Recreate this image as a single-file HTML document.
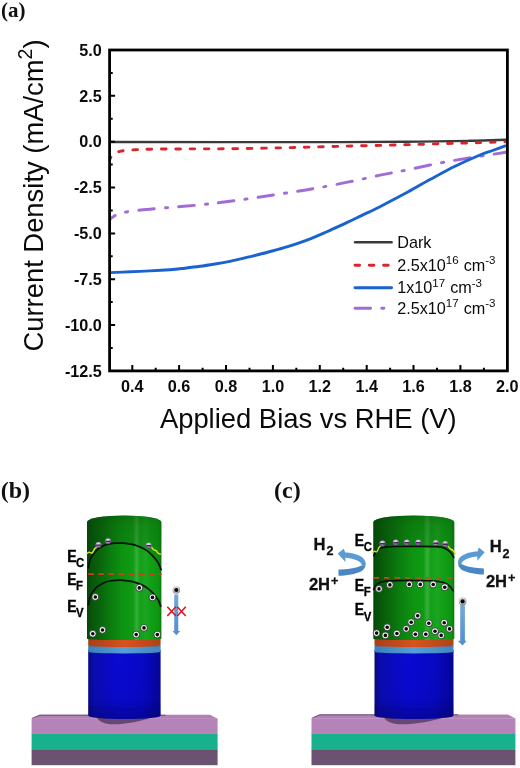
<!DOCTYPE html>
<html><head><meta charset="utf-8"><title>Figure</title>
<style>
html,body{margin:0;padding:0;background:#fff;}
body{width:520px;height:768px;overflow:hidden;}
svg{display:block;}
text{font-family:"Liberation Sans",Arial,sans-serif;fill:#0a0a0a;}
.tk{font-weight:bold;font-size:16.2px;}
.pl{font-family:"Liberation Serif","Times New Roman",serif;font-weight:bold;font-size:21px;fill:#111;}
.lg{font-size:16.2px;}
.eb{font-weight:bold;font-size:17.4px;fill:#000;stroke:#000;stroke-width:0.45px;}
.es{font-weight:bold;font-size:12.2px;fill:#000;stroke:#000;stroke-width:0.3px;}
.hb{font-weight:bold;font-size:16.6px;fill:#111;stroke:#111;stroke-width:0.3px;}
.hs{font-weight:bold;font-size:12.6px;fill:#111;}
</style></head><body>
<svg width="520" height="768" viewBox="0 0 520 768">
<defs>
<linearGradient id="gG" x1="0" x2="1" y1="0" y2="0">
<stop offset="0" stop-color="#054607"/><stop offset="0.07" stop-color="#07560a"/><stop offset="0.2" stop-color="#09690c"/>
<stop offset="0.34" stop-color="#0b800f"/><stop offset="0.47" stop-color="#0d9211"/><stop offset="0.62" stop-color="#0f9c13"/><stop offset="0.665" stop-color="#38ae3a"/><stop offset="0.715" stop-color="#129f16"/>
<stop offset="0.79" stop-color="#1da521"/><stop offset="0.85" stop-color="#10a014"/><stop offset="0.96" stop-color="#0e9612"/><stop offset="1" stop-color="#0a7a0e"/>
</linearGradient>
<linearGradient id="gTop" x1="0" x2="0" y1="0" y2="1">
<stop offset="0" stop-color="#053a08" stop-opacity="0.3"/><stop offset="0.3" stop-color="#0a5a10" stop-opacity="0.15"/><stop offset="1" stop-color="#0a5a10" stop-opacity="0"/>
</linearGradient>
<linearGradient id="gB" x1="0" x2="1" y1="0" y2="0">
<stop offset="0" stop-color="#080880"/><stop offset="0.07" stop-color="#0b0bb0"/><stop offset="0.4" stop-color="#0909d2"/>
<stop offset="0.75" stop-color="#0808c8"/><stop offset="1" stop-color="#050598"/>
</linearGradient>
<linearGradient id="gBv" x1="0" x2="0" y1="0" y2="1">
<stop offset="0" stop-color="#000040" stop-opacity="0"/><stop offset="0.7" stop-color="#000040" stop-opacity="0.05"/><stop offset="1" stop-color="#000040" stop-opacity="0.35"/>
</linearGradient>
<linearGradient id="gO" x1="0" x2="1" y1="0" y2="0">
<stop offset="0" stop-color="#a83e16"/><stop offset="0.5" stop-color="#d8521e"/><stop offset="1" stop-color="#b04218"/>
</linearGradient>
<linearGradient id="gL" x1="0" x2="1" y1="0" y2="0">
<stop offset="0" stop-color="#3a7fba"/><stop offset="0.5" stop-color="#559fd8"/><stop offset="1" stop-color="#3f86c2"/>
</linearGradient>
<linearGradient id="gAr" x1="0" x2="0" y1="0" y2="1">
<stop offset="0" stop-color="#74a8da"/><stop offset="1" stop-color="#528fca"/>
</linearGradient>
<radialGradient id="gE" cx="0.45" cy="0.3" r="0.75">
<stop offset="0" stop-color="#ece4f0"/><stop offset="0.55" stop-color="#a88cb8"/><stop offset="1" stop-color="#4a2c5a"/>
</radialGradient>
<radialGradient id="gH" cx="0.45" cy="0.4" r="0.7">
<stop offset="0" stop-color="#ffffff"/><stop offset="0.65" stop-color="#f2f2f2"/><stop offset="1" stop-color="#9a9a9a"/>
</radialGradient>
<radialGradient id="gH2" cx="0.45" cy="0.4" r="0.7">
<stop offset="0" stop-color="#f0f0f0"/><stop offset="0.55" stop-color="#c8c8c8"/><stop offset="1" stop-color="#555"/>
</radialGradient>
<g id="hole"><circle r="3.45" fill="url(#gH)" stroke="#1f3a24" stroke-width="0.8"/><circle r="1.8" fill="#0a0a0a"/></g>
<g id="hole2"><circle r="3.8" fill="url(#gH2)"/><circle r="2.1" fill="#0a0a0a"/></g>
<g id="elec"><circle r="3" cy="0.4" fill="url(#gE)"/><rect x="-2.5" y="-0.1" width="5" height="1.4" rx="0.5" fill="#350a4a" opacity="0.85"/></g>
<g id="uarrow"><path d="M338.5 569.6C346 569.4 356 568.4 362.3 565.3C364 564.4 365 563.6 365.4 562.4C366.2 566 364.5 569 361.5 571.2C356 574 346 575.6 338.5 575.8Z" fill="#4a87c5"/>
<path d="M337.7 553.5L343.8 548.8L345.2 552.6C352 552.6 360 555 363.4 558.4C365.2 560.2 366 562.4 365.4 564.4C364.6 566 363.4 566.4 362 565.8C362.2 563.6 360 561.6 356 560C353 558.8 349 558 345.4 557.8L345.4 562Z" fill="#5b9bd5"/></g>
</defs>
<rect width="520" height="768" fill="#fff"/>

<text class="pl" x="1" y="17.2">(a)</text>
<text class="pl" x="0.7" y="498.1" style="font-size:24px">(b)</text>
<text class="pl" x="274.1" y="498.1" style="font-size:24px">(c)</text>
<path id="cdark" d="M110.0 142.0 C148.3 142.0 288.3 142.2 340.0 142.1 C391.7 142.0 398.3 141.8 420.0 141.6 C441.7 141.4 455.7 141.1 470.0 140.8 C484.3 140.5 500.0 140.0 506.0 139.8" fill="none" stroke="#3a3a3a" stroke-width="2.4" stroke-linecap="round"/>
<path id="cred" d="M110.0 158.8 C110.3 158.2 111.2 156.4 112.0 155.5 C112.8 154.6 113.8 154.0 115.0 153.3 C116.2 152.7 117.3 152.1 119.0 151.6 C120.7 151.1 122.3 150.8 125.0 150.5 C127.7 150.2 130.8 150.0 135.0 149.8 C139.2 149.6 141.7 149.3 150.0 149.2 C158.3 149.0 172.5 149.0 185.0 148.9 C197.5 148.8 208.8 148.9 225.0 148.8 C241.2 148.6 262.8 148.2 282.0 147.8 C301.2 147.4 320.3 146.8 340.0 146.3 C359.7 145.8 382.7 145.4 400.0 144.9 C417.3 144.4 430.7 144.0 444.0 143.6 C457.3 143.2 469.7 142.9 480.0 142.6 C490.3 142.3 501.7 141.9 506.0 141.8" fill="none" stroke="#d9262c" stroke-width="2.9" stroke-linecap="round" stroke-dasharray="4.6 9.7" stroke-dashoffset="2.6"/>
<path id="cpur" d="M110.0 219.5 C110.3 219.2 111.2 218.2 112.0 217.6 C112.8 216.9 114.0 216.2 115.0 215.6 C116.0 215.0 117.1 214.4 118.3 214.0 C119.5 213.6 120.4 213.3 122.0 212.9 C123.6 212.5 125.0 212.1 127.7 211.7 C130.3 211.3 134.2 210.7 137.9 210.3 C141.6 209.9 143.8 209.8 150.0 209.2 C156.2 208.6 166.7 207.7 175.0 207.0 C183.3 206.3 192.5 205.6 200.0 204.8 C207.5 204.1 212.5 203.4 220.0 202.5 C227.5 201.6 236.7 200.4 245.0 199.2 C253.3 198.0 261.7 196.8 270.0 195.5 C278.3 194.2 286.7 193.0 295.0 191.7 C303.3 190.4 310.8 189.2 320.0 187.5 C329.2 185.8 340.0 183.8 350.0 181.7 C360.0 179.6 370.2 177.2 380.0 175.2 C389.8 173.2 398.3 171.7 409.0 169.5 C419.7 167.3 432.5 164.3 444.0 162.2 C455.5 160.0 467.7 158.2 478.0 156.6 C488.3 154.9 501.3 153.0 506.0 152.3" fill="none" stroke="#a06cd6" stroke-width="2.9" stroke-linecap="round" stroke-dasharray="15.6 11.1 2.2 11.1" stroke-dashoffset="9.1"/>
<path id="cblue" d="M110.0 272.6 C113.3 272.5 123.3 272.1 130.0 271.8 C136.7 271.5 143.3 271.2 150.0 270.9 C156.7 270.6 164.2 270.2 170.0 269.8 C175.8 269.4 180.0 268.8 185.0 268.2 C190.0 267.6 195.0 267.0 200.0 266.3 C205.0 265.6 210.0 264.8 215.0 264.0 C220.0 263.2 224.3 262.5 230.0 261.3 C235.7 260.1 242.8 258.4 249.2 256.9 C255.6 255.3 262.1 253.7 268.5 252.0 C274.9 250.3 281.3 248.7 287.7 246.7 C294.1 244.7 300.5 242.5 306.9 240.1 C313.3 237.7 319.6 234.9 326.2 232.0 C332.8 229.1 340.3 225.6 346.2 222.9 C352.1 220.2 355.9 218.3 361.5 215.6 C367.1 212.9 372.8 210.4 380.0 206.7 C387.2 203.0 396.7 198.1 405.0 193.6 C413.3 189.1 421.7 184.1 430.0 179.6 C438.3 175.1 446.7 170.4 455.0 166.3 C463.3 162.2 473.8 157.6 480.0 155.0 C486.2 152.4 488.2 152.1 492.5 150.5 C496.8 148.9 503.8 146.4 506.0 145.6" fill="none" stroke="#1862d2" stroke-width="2.9"/>
<rect x="109.6" y="50.0" width="397.8" height="320.9" fill="none" stroke="#000" stroke-width="2.8"/>
<path d="M109.6 72.9h3.1M109.6 95.8h5.5M109.6 118.8h3.1M109.6 141.7h5.5M109.6 164.6h3.1M109.6 187.5h5.5M109.6 210.4h3.1M109.6 233.4h5.5M109.6 256.3h3.1M109.6 279.2h5.5M109.6 302.1h3.1M109.6 325.1h5.5M109.6 348.0h3.1M132.3 370.9v-6M155.7 370.9v-3.1M179.1 370.9v-6M202.6 370.9v-3.1M226.0 370.9v-6M249.5 370.9v-3.1M272.9 370.9v-6M296.3 370.9v-3.1M319.8 370.9v-6M343.2 370.9v-3.1M366.7 370.9v-6M390.1 370.9v-3.1M413.5 370.9v-6M437.0 370.9v-3.1M460.4 370.9v-6M483.9 370.9v-3.1" fill="none" stroke="#000" stroke-width="2"/>
<text class="tk" x="101.8" y="55.7" text-anchor="end">5.0</text>
<text class="tk" x="101.8" y="101.5" text-anchor="end">2.5</text>
<text class="tk" x="101.8" y="147.4" text-anchor="end">0.0</text>
<text class="tk" x="101.8" y="193.2" text-anchor="end">-2.5</text>
<text class="tk" x="101.8" y="239.1" text-anchor="end">-5.0</text>
<text class="tk" x="101.8" y="284.9" text-anchor="end">-7.5</text>
<text class="tk" x="101.8" y="330.8" text-anchor="end">-10.0</text>
<text class="tk" x="101.8" y="376.6" text-anchor="end">-12.5</text>
<text class="tk" x="132.3" y="391.5" text-anchor="middle">0.4</text>
<text class="tk" x="179.1" y="391.5" text-anchor="middle">0.6</text>
<text class="tk" x="226.0" y="391.5" text-anchor="middle">0.8</text>
<text class="tk" x="272.9" y="391.5" text-anchor="middle">1.0</text>
<text class="tk" x="319.8" y="391.5" text-anchor="middle">1.2</text>
<text class="tk" x="366.7" y="391.5" text-anchor="middle">1.4</text>
<text class="tk" x="413.5" y="391.5" text-anchor="middle">1.6</text>
<text class="tk" x="460.4" y="391.5" text-anchor="middle">1.8</text>
<text class="tk" x="507.3" y="391.5" text-anchor="middle">2.0</text>
<text x="308.3" y="428.3" text-anchor="middle" font-size="27.4">Applied Bias vs RHE (V)</text>
<text transform="translate(43.4 195.5) rotate(-90)" text-anchor="middle" font-size="27.4">Current Density (mA/cm<tspan dy="-11.4" font-size="19.5">2</tspan><tspan dy="11.4">)</tspan></text>
<path d="M355 242.2H391.6" stroke="#3a3a3a" stroke-width="2.4" stroke-linecap="round" fill="none"/>
<path d="M355 265.2H391.6" stroke="#d9262c" stroke-width="2.9" stroke-linecap="round" stroke-dasharray="4.6 9.7" fill="none"/>
<path d="M355 287.7H391.6" stroke="#1862d2" stroke-width="2.9" stroke-linecap="round" fill="none"/>
<path d="M355 308.3H391.6" stroke="#a06cd6" stroke-width="2.9" stroke-linecap="round" stroke-dasharray="15.6 11.1 2.2 11.1" fill="none"/>
<text class="lg" x="397.2" y="248.2">Dark</text>
<text class="lg" x="397.2" y="270.8">2.5x10<tspan dy="-6.4" font-size="11.5">16</tspan><tspan dy="6.4" dx="0.6"> cm</tspan><tspan dy="-6.4" font-size="11.5">-3</tspan></text>
<text class="lg" x="397.2" y="293.3">1x10<tspan dy="-6.4" font-size="11.5">17</tspan><tspan dy="6.4" dx="0.6"> cm</tspan><tspan dy="-6.4" font-size="11.5">-3</tspan></text>
<text class="lg" x="397.2" y="313.7">2.5x10<tspan dy="-6.4" font-size="11.5">17</tspan><tspan dy="6.4" dx="0.6"> cm</tspan><tspan dy="-6.4" font-size="11.5">-3</tspan></text>
<path d="M39.6 714.8L209.9 714.8L217.6 718.7L31.6 718.7Z" fill="#b181b5"/>
<path d="M32.0 718.4L39.6 715.2H165.4" fill="none" stroke="#5e3f66" stroke-width="1" opacity="0.85"/>
<rect x="31.6" y="718.4" width="186.0" height="15.3" fill="#b583b8"/>
<rect x="31.6" y="733.5" width="186.0" height="16.8" fill="#18b08d"/>
<rect x="31.6" y="750" width="186.0" height="15.2" fill="#6b5270"/>
<path d="M96.0 715.5C97.2 721 104.2 724.3 113.2 724.3C126.2 724.3 141.2 721.6 156.7 715.5Z" fill="#664871"/>
<path d="M88.2 650V715.5A36.2 3.6 0 0 0 160.6 715.5V650Z" fill="url(#gB)"/>
<path d="M88.2 650V715.5A36.2 3.6 0 0 0 160.6 715.5V650Z" fill="url(#gBv)"/>
<path d="M88.7 706.6A36.2 3.4 0 0 0 160.1 706.6" fill="none" stroke="#04046a" stroke-width="1" opacity="0.25"/>
<path d="M88.2 645.4H160.6V651.8A36.2 1.6 0 0 1 88.2 651.8Z" fill="url(#gL)"/>
<path d="M88.2 638.6H160.6V645.6A36.2 1.4 0 0 1 88.2 645.6Z" fill="url(#gO)"/>
<path d="M87.0 638.8V522A37.2 6.6 0 0 1 161.4 522V638.8A37.2 1.3 0 0 1 87.0 638.8Z" fill="url(#gG)"/>
<path d="M87.0 548V522A37.2 6.6 0 0 1 161.4 522V548Z" fill="url(#gTop)"/>
<path d="M87 575V522A37.2 6.6 0 0 1 161.4 522V575L161.3 570.3 L158.1 562.7 L152.7 555.8 L146.5 550.4 L138.8 546.5 L131.2 544.2 L123.5 543.2 L115.8 543.2 L109.6 543.9 L103.5 545.8 L97.3 549.6 L92.7 555.0 L89.6 561.2 L88.3 568.4" fill="#053808" opacity="0.15"/>
<path d="M88.3 568.4 C88.5 567.2 88.9 563.4 89.6 561.2 C90.3 559.0 91.4 556.9 92.7 555.0 C94.0 553.1 95.5 551.1 97.3 549.6 C99.1 548.1 101.5 546.8 103.5 545.8 C105.5 544.8 107.5 544.3 109.6 543.9 C111.6 543.5 113.5 543.3 115.8 543.2 C118.1 543.1 120.9 543.0 123.5 543.2 C126.1 543.4 128.6 543.7 131.2 544.2 C133.8 544.8 136.2 545.5 138.8 546.5 C141.4 547.5 144.2 548.9 146.5 550.4 C148.8 551.9 150.8 553.8 152.7 555.8 C154.6 557.8 156.7 560.3 158.1 562.7 C159.5 565.1 160.8 569.0 161.3 570.3" fill="none" stroke="#06120a" stroke-width="1.7"/>
<path d="M88.3 605.5 C88.5 604.3 88.9 600.5 89.6 598.3 C90.3 596.1 91.4 594.0 92.7 592.1 C94.0 590.2 95.5 588.2 97.3 586.7 C99.1 585.2 101.5 583.9 103.5 582.9 C105.5 581.9 107.5 581.4 109.6 581.0 C111.6 580.6 113.5 580.4 115.8 580.3 C118.1 580.2 120.9 580.1 123.5 580.3 C126.1 580.5 128.6 580.8 131.2 581.3 C133.8 581.9 136.2 582.6 138.8 583.6 C141.4 584.6 144.2 586.0 146.5 587.5 C148.8 589.0 150.8 590.8 152.7 592.9 C154.6 595.0 156.7 597.5 158.1 599.8 C159.5 602.1 160.4 605.6 160.9 606.8" fill="none" stroke="#06120a" stroke-width="1.7"/>
<path d="M88.2 574.1H161.6" stroke="#d23c1a" stroke-width="1.8" stroke-dasharray="5.8 4.3" fill="none"/>
<path d="M86.4 554.2c1.6-1.8 2.8-2.6 3.9-1.6s2 0.8 3-1.2s1.2-3 2.2-3.4s1.4-0.6 2-1.2" fill="none" stroke="#dbe032" stroke-width="1.4"/>
<path d="M150.6 546.6c1.4 0.6 2 2 2.8 3s2 0.2 2.8 1.2s1.6 2.4 2.6 2.8s1.4 0.2 2 0.8" fill="none" stroke="#dbe032" stroke-width="1.4"/>
<use href="#elec" x="98.5" y="544.5"/>
<use href="#elec" x="108.1" y="540.8"/>
<use href="#elec" x="148.8" y="545.2"/>
<use href="#hole" x="139.3" y="587.9"/>
<use href="#hole" x="95.3" y="597.0"/>
<use href="#hole" x="152.5" y="597.4"/>
<use href="#hole" x="92.8" y="633.8"/>
<use href="#hole" x="102.5" y="630.0"/>
<use href="#hole" x="136.2" y="634.6"/>
<use href="#hole" x="144.0" y="627.9"/>
<use href="#hole" x="157.3" y="634.6"/>
<text class="eb" transform="translate(67.2 562.0) scale(0.80 1)">E</text><text class="es" transform="translate(76.1 567.3) scale(0.93 1)">C</text>
<text class="eb" transform="translate(67.2 585.0) scale(0.80 1)">E</text><text class="es" transform="translate(76.1 590.3) scale(0.93 1)">F</text>
<text class="eb" transform="translate(67.2 611.6) scale(0.80 1)">E</text><text class="es" transform="translate(76.1 616.9) scale(0.93 1)">V</text>
<path d="M174.2 594.4H178.3V631H180.2L176.3 635.3L172.4 631H174.2Z" fill="url(#gAr)"/>
<use href="#hole2" x="176.3" y="590"/>
<path d="M167.3 606.8l8.6 9.2m0-9.2l-8.6 9.2M177.2 606.8l8.6 9.2m0-9.2l-8.6 9.2" stroke="#e0141f" stroke-width="1.6" fill="none"/>
<path d="M319.5 714.4L507.7 714.4L515.4 718.6L311.5 718.6Z" fill="#b181b5"/>
<path d="M311.9 718.3L319.5 714.8H458.3" fill="none" stroke="#5e3f66" stroke-width="1" opacity="0.85"/>
<rect x="311.5" y="718.3" width="203.9" height="15.4" fill="#b583b8"/>
<rect x="311.5" y="733.5" width="203.9" height="16.8" fill="#18b08d"/>
<rect x="311.5" y="750" width="203.9" height="15.2" fill="#6b5270"/>
<path d="M383.1 715.5C384.4 721 392.0 724.3 401.8 724.3C416.0 724.3 432.3 721.6 449.2 715.5Z" fill="#664871"/>
<path d="M374.5 650V715.5A39.5 3.6 0 0 0 453.5 715.5V650Z" fill="url(#gB)"/>
<path d="M374.5 650V715.5A39.5 3.6 0 0 0 453.5 715.5V650Z" fill="url(#gBv)"/>
<path d="M375.0 706.6A39.5 3.4 0 0 0 453.0 706.6" fill="none" stroke="#04046a" stroke-width="1" opacity="0.25"/>
<path d="M374.5 645.4H453.5V651.8A39.5 1.6 0 0 1 374.5 651.8Z" fill="url(#gL)"/>
<path d="M374.5 638.6H453.5V645.6A39.5 1.4 0 0 1 374.5 645.6Z" fill="url(#gO)"/>
<path d="M373.3 638.8V522A40.5 6.6 0 0 1 454.3 522V638.8A40.5 1.3 0 0 1 373.3 638.8Z" fill="url(#gG)"/>
<path d="M373.3 548V522A40.5 6.6 0 0 1 454.3 522V548Z" fill="url(#gTop)"/>
<path d="M373.3 565V522A40.5 6.6 0 0 1 454.3 522V565L454.0 557.9 L450.5 552.5 L446.2 549.0 L439.2 546.8 L418.0 546.4 L396.0 546.5 L387.3 546.9 L380.4 548.3 L376.1 551.6 L373.5 556.4" fill="#053808" opacity="0.15"/>
<path d="M373.5 556.4 C373.9 555.6 375.0 553.0 376.1 551.6 C377.2 550.2 378.5 549.1 380.4 548.3 C382.3 547.5 384.7 547.2 387.3 546.9 C389.9 546.6 390.9 546.6 396.0 546.5 C401.1 546.4 410.8 546.4 418.0 546.4 C425.2 546.4 434.5 546.4 439.2 546.8 C443.9 547.2 444.3 548.0 446.2 549.0 C448.1 550.0 449.2 551.0 450.5 552.5 C451.8 554.0 453.4 557.0 454.0 557.9" fill="none" stroke="#06120a" stroke-width="1.7"/>
<path d="M373.5 590.0 C373.9 589.2 375.0 586.7 376.1 585.4 C377.2 584.1 378.5 583.0 380.4 582.3 C382.3 581.6 384.7 581.4 387.3 581.1 C389.9 580.8 391.2 580.7 396.0 580.6 C400.8 580.5 409.4 580.4 416.0 580.5 C422.6 580.6 431.1 580.7 435.8 581.1 C440.5 581.5 442.1 581.9 444.4 582.8 C446.7 583.6 448.1 584.8 449.6 586.2 C451.1 587.6 452.9 590.4 453.5 591.2" fill="none" stroke="#06120a" stroke-width="1.7"/>
<path d="M373.6 577.9H454" stroke="#c8481a" stroke-width="1.8" stroke-dasharray="5.4 5.1" fill="none"/>
<path d="M372.4 553c1.2-1.8 2.2-2.2 3-1.4s1.6 0.2 2.4-1.6s1-2.6 1.8-3.2s1.2-1.2 1.8-2" fill="none" stroke="#dbe032" stroke-width="1.4"/>
<path d="M447.6 546.2c1.2 0.4 1.8 1.6 2.6 2.6s1.8 0.4 2.6 1.4s1.2 2.2 2 2.8s0.8 0.6 1.2 1.2" fill="none" stroke="#dbe032" stroke-width="1.4"/>
<use href="#elec" x="382.5" y="543.2"/>
<use href="#elec" x="395.8" y="542.1"/>
<use href="#elec" x="406.9" y="542.1"/>
<use href="#elec" x="418.4" y="542.1"/>
<use href="#elec" x="435.8" y="542.6"/>
<use href="#elec" x="445.3" y="543.6"/>
<use href="#hole" x="379.0" y="588.9"/>
<use href="#hole" x="389.9" y="584.9"/>
<use href="#hole" x="409.3" y="584.4"/>
<use href="#hole" x="420.3" y="584.4"/>
<use href="#hole" x="433.2" y="584.5"/>
<use href="#hole" x="444.8" y="587.2"/>
<use href="#hole" x="376.6" y="633.1"/>
<use href="#hole" x="387.2" y="627.3"/>
<use href="#hole" x="385.4" y="635.4"/>
<use href="#hole" x="396.9" y="633.5"/>
<use href="#hole" x="406.2" y="628.9"/>
<use href="#hole" x="411.2" y="622.2"/>
<use href="#hole" x="417.7" y="615.8"/>
<use href="#hole" x="415.4" y="634.2"/>
<use href="#hole" x="425.8" y="634.2"/>
<use href="#hole" x="428.8" y="623.2"/>
<use href="#hole" x="435.0" y="631.2"/>
<use href="#hole" x="441.2" y="635.4"/>
<use href="#hole" x="444.2" y="622.7"/>
<use href="#hole" x="449.5" y="628.9"/>
<text class="eb" transform="translate(354.8 545.6) scale(0.80 1)">E</text><text class="es" transform="translate(363.7 550.9) scale(0.93 1)">C</text>
<text class="eb" transform="translate(354.8 590.5) scale(0.80 1)">E</text><text class="es" transform="translate(363.7 595.8) scale(0.93 1)">F</text>
<text class="eb" transform="translate(354.8 615.2) scale(0.80 1)">E</text><text class="es" transform="translate(363.7 620.5) scale(0.93 1)">V</text>
<path d="M460.2 604.8H464.9V640.7H466.7L462.5 645.6L457.7 640.7H460.2Z" fill="url(#gAr)"/>
<use href="#hole2" x="462.6" y="601.4"/>
<text class="hb" x="313.6" y="549.7">H<tspan class="hs" dx="0.8" dy="5.4">2</tspan></text>
<text class="hb" x="308.9" y="589.7">2H<tspan class="hs" dx="0.8" dy="-5.0">+</tspan></text>
<text class="hb" x="489.8" y="552.4">H<tspan class="hs" dx="0.8" dy="5.4">2</tspan></text>
<text class="hb" x="485.9" y="586.9">2H<tspan class="hs" dx="0.8" dy="-5.0">+</tspan></text>
<use href="#uarrow"/>
<use href="#uarrow" transform="translate(458.2 -1.2) scale(-0.955 1) translate(-365.4 0)"/>
</svg></body></html>
